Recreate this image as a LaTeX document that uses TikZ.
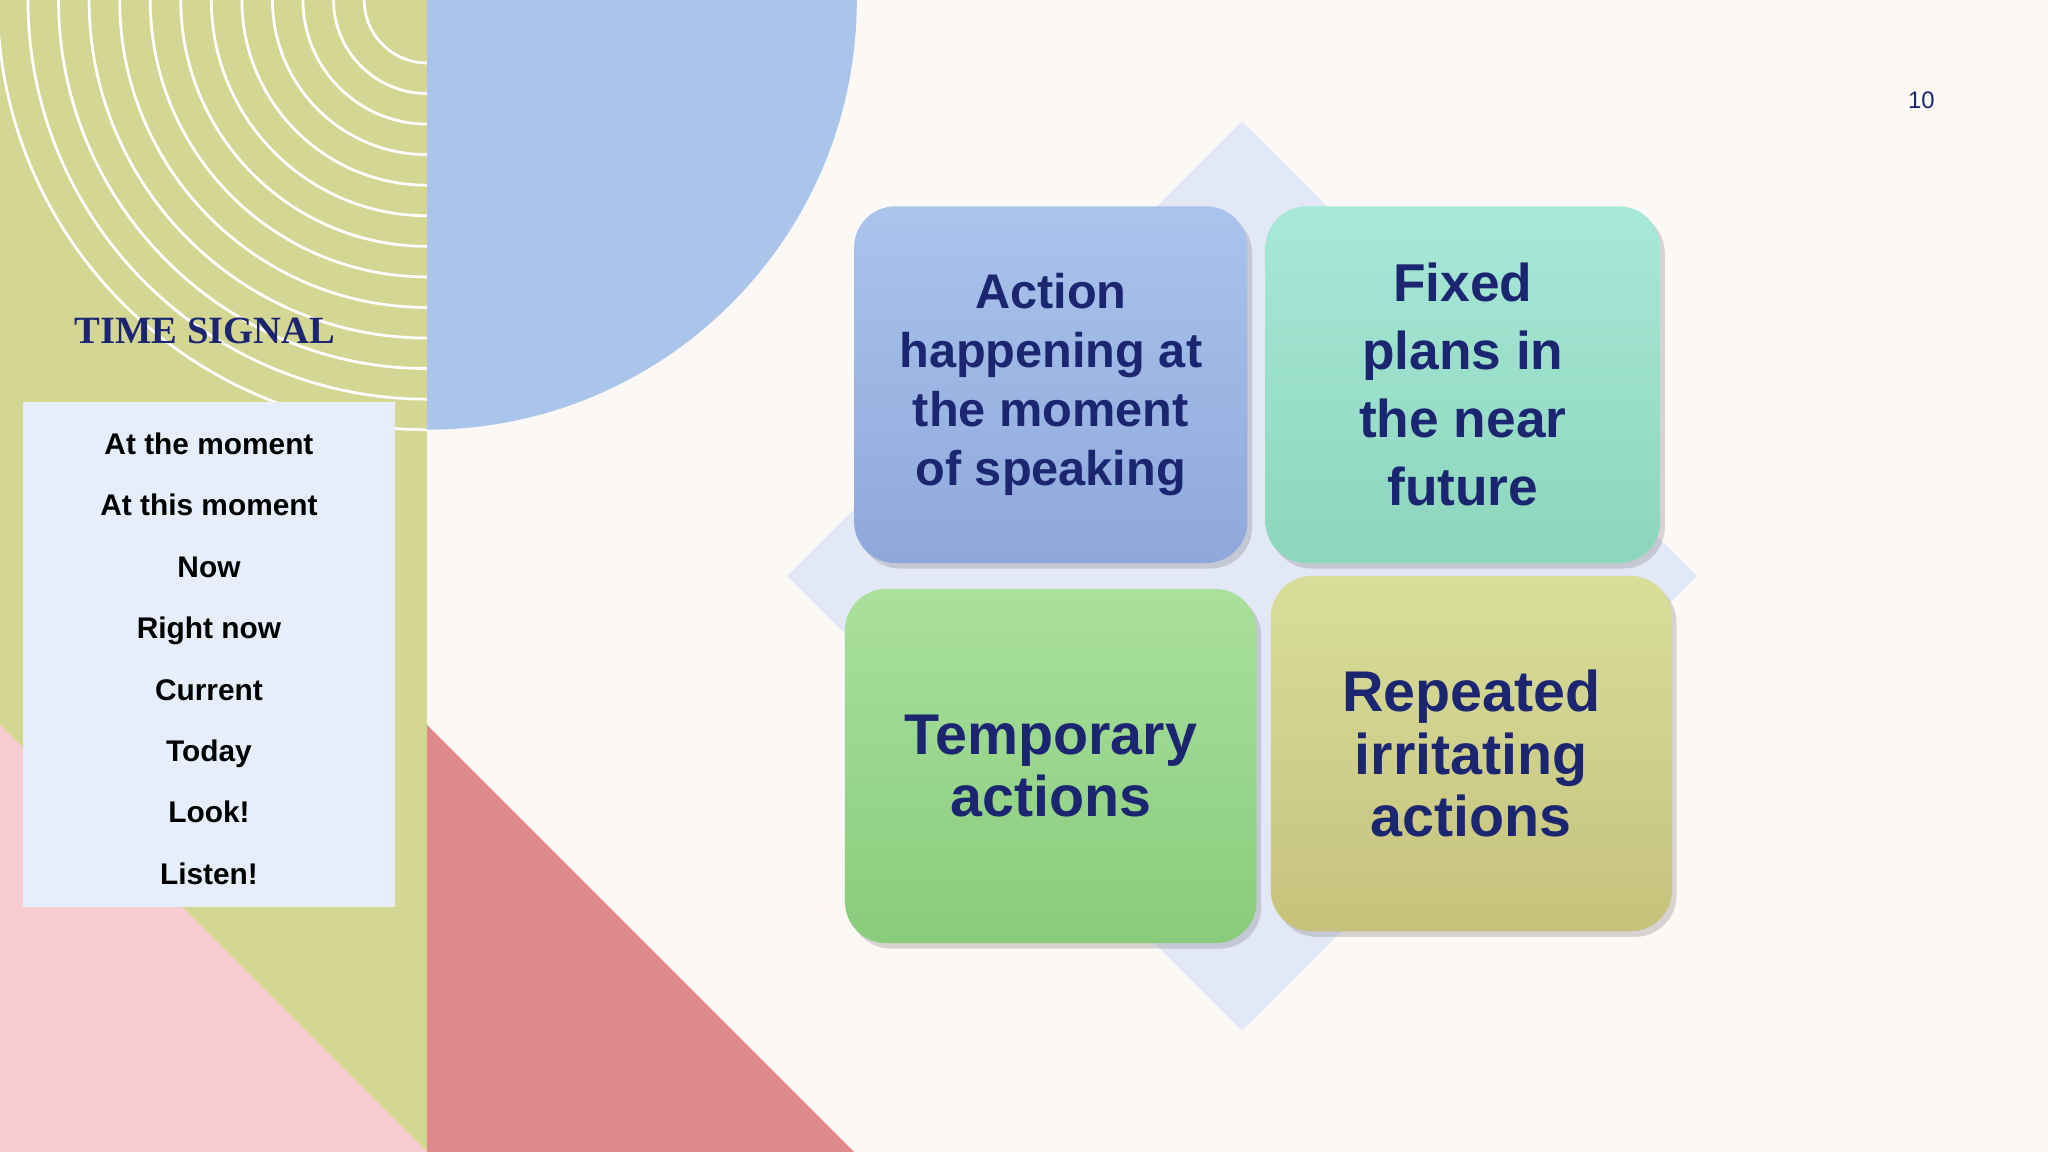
\documentclass[tikz,border=0pt]{standalone}
\usepackage{fontspec}
\setmainfont{Liberation Sans}
\newfontfamily\serifx{Liberation Serif}
\usetikzlibrary{shadows}
\definecolor{bg}{HTML}{FCF8F6}
\definecolor{olive}{HTML}{D4D694}
\definecolor{pinkx}{HTML}{F8CDD2}
\definecolor{salmon}{HTML}{DE8A8A}
\definecolor{bluec}{HTML}{AAC4EA}
\definecolor{navy}{HTML}{1B2570}
\definecolor{listbg}{HTML}{E6EEFC}
\definecolor{diam}{HTML}{E2E8F6}
\tikzset{
 card/.style={rounded corners=9pt, minimum width=#1, drop shadow={shadow xshift=1pt,shadow yshift=-1.2pt,opacity=0.3}},
 ctext/.style={align=center, text=navy, font=\fontsize{10.6}{12.8}\selectfont\bfseries},
 item/.style={font=\fontsize{6.5}{7.5}\selectfont\bfseries, text=black, anchor=base},
}
\begin{document}
\begin{tikzpicture}[x=0.01cm,y=-0.01cm]
\fill[bg] (0,0) rectangle (1568,882);
\useasboundingbox (0,0) rectangle (1568,882);
% left panel
\fill[olive] (0,0) rectangle (327,882);
\fill[pinkx] (0,555) -- (0,882) -- (327,882) -- cycle;
\begin{scope}
\clip (0,0) rectangle (327,335);
\foreach \k in {0,...,12} \draw[white,line width=0.6pt] (327,0) circle[radius=329-23.4*\k];
\end{scope}
% salmon and blue
\fill[salmon] (327,555) -- (327,882) -- (654,882) -- cycle;
\begin{scope}
\clip (327,0) rectangle (700,400);
\fill[bluec] (327,0) circle[radius=329];
\end{scope}
\node[text=navy, font=\serifx\fontsize{8.4}{10}\selectfont\bfseries] (title) at (157,253) {TIME SIGNAL};
\node[fill=listbg, minimum width=284*0.2845pt, minimum height=386*0.2845pt, inner sep=0] (list) at (160,501) {};
\foreach \t [count=\i from 0] in {At the moment,At this moment,Now,Right now,Current,Today,Look!,Listen!}
  \node[item] (it\i) at (160,348+47*\i) {\t};
\node[text=navy, font=\fontsize{5.2}{6}\selectfont] (pg) at (1471,77) {10};
% diamond
\fill[diam] (951,93) -- (1299,441) -- (951,789) -- (603,441) -- cycle;
% cards
\node[card=301*0.2845pt, minimum height=273*0.2845pt, top color={rgb,255:red,170;green,196;blue,236}, bottom color={rgb,255:red,142;green,168;blue,220}] (a) at (804.5,294.5) {};
\node[ctext] at (a) {Action\\happening at\\the moment\\of speaking};
\node[card=302*0.2845pt, minimum height=273*0.2845pt, top color={rgb,255:red,168;green,232;blue,216}, bottom color={rgb,255:red,140;green,214;blue,188}] (b) at (1120,294.5) {};
\node[ctext, font=\fontsize{11.6}{14.8}\selectfont\bfseries] at (b) {Fixed\\plans in\\the near\\future};
\node[card=315*0.2845pt, minimum height=271*0.2845pt, top color={rgb,255:red,170;green,224;blue,156}, bottom color={rgb,255:red,136;green,204;blue,124}] (c) at (804.5,586.5) {};
\node[ctext, font=\fontsize{12.5}{13.6}\selectfont\bfseries] at (c) {Temporary\\actions};
\node[card=307*0.2845pt, minimum height=272*0.2845pt, top color={rgb,255:red,216;green,222;blue,154}, bottom color={rgb,255:red,198;green,194;blue,124}] (d) at (1126.5,577) {};
\node[ctext, font=\fontsize{12.5}{13.6}\selectfont\bfseries] at (d) {Repeated\\irritating\\actions};
\end{tikzpicture}
\end{document}
